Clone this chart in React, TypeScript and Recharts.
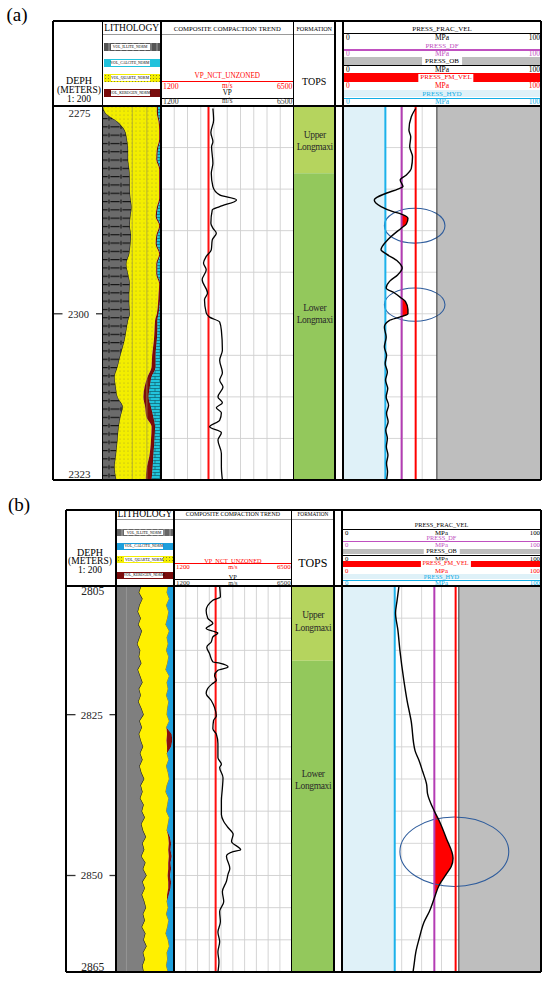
import React from 'react';
import {
  ComposedChart,
  Line,
  Area,
  XAxis,
  YAxis,
  CartesianGrid,
  ReferenceLine,
  ReferenceArea,
} from 'recharts';

// ---------- well (a): 2275–2323 m ----------
const DEPTH_RANGE_A = [2275, 2320];
const DEPTH_TICKS_A = [2300];
const DEPTH_ENDS_A = ['2275', '2323'];
const GRID_DEPTHS_A = [2275, 2280, 2285, 2290, 2295, 2300, 2305, 2310, 2315, 2320];

const LITH_A_DEPTH = [2275.0, 2275.8, 2276.9, 2277.9, 2279.0, 2280.2, 2281.4, 2282.6, 2283.8, 2285.0, 2286.1, 2287.2, 2288.3, 2289.4, 2290.6, 2291.6, 2292.8, 2294.0, 2295.2, 2296.4, 2297.6, 2298.8, 2300.0, 2300.8, 2302.0, 2303.2, 2305.0, 2306.4, 2307.6, 2308.8, 2310.0, 2311.2, 2312.4, 2313.6, 2315.2, 2317.2, 2318.4, 2320.0];
const ILLITE_A = [0, 4, 25, 37, 41, 43, 43, 45, 46, 46, 47, 49, 47, 46, 48, 47, 45, 40, 43, 46, 45, 45, 46, 43, 40, 37, 30, 25, 20, 22, 25, 34, 30, 27, 25, 22, 20, 23];
const QUARTZ_A = [92, 88, 70, 59, 55, 49, 48, 51, 50, 50, 49, 43, 43, 50, 43, 43, 51, 51, 48, 50, 50, 49, 46, 46, 48, 50, 54, 58, 56, 49, 44, 38, 44, 56, 57, 57, 55, 50];
const KEROGEN_A = [2, 2, 2, 2, 2, 2, 2, 2, 2, 2, 2, 2, 2, 2, 2, 2, 2, 2, 2, 2, 3, 3, 3, 4, 5, 5, 6, 7, 7, 9, 9, 10, 12, 6, 6, 7, 10, 10];
const CALCITE_A = [6, 6, 3, 2, 2, 6, 7, 2, 2, 2, 2, 6, 8, 2, 7, 8, 2, 7, 7, 2, 2, 3, 5, 7, 7, 8, 10, 10, 17, 20, 22, 18, 14, 11, 12, 14, 15, 17];

const VP_A_DEPTH = [2275.3, 2276.7, 2278.2, 2279.3, 2279.9, 2281.9, 2283.1, 2284.7, 2285.7, 2286.3, 2287.1, 2287.5, 2289.1, 2289.7, 2290.3, 2291.1, 2292.3, 2293.1, 2293.9, 2294.7, 2295.9, 2297.5, 2298.3, 2299.9, 2300.4, 2301.0, 2302.0, 2304.4, 2305.6, 2307.1, 2308.0, 2308.8, 2310.0, 2310.7, 2311.3, 2311.9, 2312.8, 2313.6, 2314.3, 2315.2, 2316.8, 2318.4, 2320.0];
const VP_A = [3276, 3304, 3195, 3276, 3223, 3276, 3211, 3276, 3547, 4222, 3547, 3251, 3195, 3276, 3413, 3251, 3211, 3009, 2899, 3009, 2847, 3061, 2940, 3009, 3142, 3547, 3615, 3656, 3547, 3656, 3547, 3680, 3478, 3656, 3413, 3615, 3547, 3142, 3615, 3478, 3615, 3615, 3656];
const VP_NCT_A = 3100;

const PRESS_A_DEPTH = [2275.3, 2276.3, 2277.9, 2278.7, 2279.9, 2281.1, 2282.5, 2283.3, 2283.9, 2284.7, 2285.0, 2285.5, 2286.3, 2287.1, 2287.7, 2288.0, 2288.5, 2289.2, 2289.7, 2291.1, 2292.3, 2292.8, 2293.7, 2294.5, 2295.3, 2296.1, 2296.9, 2297.5, 2298.1, 2298.5, 2299.5, 2300.0, 2300.4, 2300.8, 2301.6, 2302.8, 2304.0, 2305.0, 2306.0, 2307.0, 2308.0, 2309.0, 2310.0, 2311.0, 2312.0, 2313.0, 2314.0, 2315.0, 2316.0, 2317.0, 2318.0, 2319.0, 2320.0];
const PRESS_FRAC_A = [36.7, 34.5, 33.3, 34.2, 33.7, 35.1, 34.5, 32.0, 28.9, 30.3, 27.7, 21.8, 15.8, 19.2, 25.2, 29.4, 32.8, 32.0, 29.4, 22.6, 19.2, 21.8, 27.7, 29.9, 27.7, 23.5, 21.8, 26.0, 29.4, 31.5, 32.8, 32.8, 28.6, 23.5, 20.9, 21.8, 20.9, 22.0, 21.3, 22.4, 21.5, 22.6, 21.8, 23.0, 22.0, 22.8, 21.6, 22.4, 21.9, 22.7, 22.0, 22.5, 22.0];
const PRESS_HYD_A = 21.4;
const PRESS_DF_A = 29.6;
const PRESS_FM_A = 36.7;
const PRESS_OB_A = 47.4;
const OVERPRESSURE_A = [[2287.9, 2289.8], [2298.0, 2300.5]];
const HIGHLIGHTS_A = [[20.9, 51.5, 2287.3, 2291.5], [20.9, 51.5, 2296.9, 2300.9]];

const FORMATION_TOPS_A = [2275, 2283.1, 2320];

// ---------- well (b): 2805–2865 m ----------
const DEPTH_RANGE_B = [2805, 2865];
const DEPTH_TICKS_B = [2825, 2850];
const DEPTH_ENDS_B = ['2805', '2865'];
const GRID_DEPTHS_B = [2805, 2810, 2815, 2820, 2825, 2830, 2835, 2840, 2845, 2850, 2855, 2860, 2865];

const LITH_B_DEPTH = [2805, 2806, 2807, 2808, 2809, 2810, 2811, 2812, 2813, 2814, 2815, 2816, 2817, 2818, 2819, 2820, 2821, 2822, 2823, 2824, 2825, 2826, 2827, 2828, 2829, 2830, 2831, 2832, 2833, 2834, 2835, 2836, 2837, 2838, 2839, 2840, 2841, 2842, 2843, 2844, 2845, 2846, 2847, 2848, 2849, 2850, 2851, 2852, 2853, 2854, 2855, 2856, 2857, 2858, 2859, 2860, 2861, 2862, 2863, 2864, 2865];
const ILLITE_B = [44, 40, 46, 41, 38, 43, 39, 45, 41, 37, 42, 40, 44, 38, 42, 46, 40, 43, 39, 44, 48, 41, 45, 40, 43, 47, 42, 46, 41, 44, 49, 43, 46, 42, 48, 45, 50, 44, 47, 52, 46, 49, 44, 51, 47, 53, 46, 50, 45, 49, 52, 47, 50, 45, 51, 48, 53, 47, 50, 46, 48];
const QUARTZ_B = [46, 48, 46, 46, 53, 46, 47, 47, 47, 53, 45, 51, 45, 48, 50, 42, 50, 44, 52, 45, 40, 51, 42, 48, 44, 41, 46, 45, 46, 46, 43, 45, 40, 49, 41, 42, 42, 46, 41, 38, 45, 41, 47, 39, 43, 36, 44, 40, 43, 39, 38, 40, 41, 44, 35, 42, 39, 41, 39, 41, 42];
const KEROGEN_B = [0, 0, 0, 0, 0, 0, 0, 0, 0, 0, 0, 0, 0, 0, 0, 0, 0, 0, 0, 0, 0, 0, 0, 8, 10, 7, 0, 0, 0, 0, 0, 0, 0, 0, 0, 0, 0, 0, 0, 3, 4, 4, 5, 4, 5, 4, 5, 4, 3, 0, 0, 0, 0, 0, 0, 0, 0, 0, 0, 0, 0];
const CALCITE_B = [10, 12, 8, 13, 9, 11, 14, 8, 12, 10, 13, 9, 11, 14, 8, 12, 10, 13, 9, 11, 12, 8, 13, 4, 3, 5, 12, 9, 13, 10, 8, 12, 14, 9, 11, 13, 8, 10, 12, 7, 5, 6, 4, 6, 5, 7, 5, 6, 9, 12, 10, 13, 9, 11, 14, 10, 8, 12, 11, 13, 10];

const VP_B_DEPTH = [2805.1, 2806.7, 2807.2, 2808.8, 2810.0, 2810.8, 2811.6, 2812.1, 2812.3, 2812.9, 2813.7, 2814.5, 2815.5, 2816.8, 2817.0, 2817.6, 2818.1, 2818.9, 2819.7, 2820.2, 2820.9, 2821.7, 2822.8, 2823.9, 2825.2, 2825.9, 2827.2, 2828.0, 2829.5, 2831.7, 2832.7, 2833.2, 2834.8, 2836.4, 2838.4, 2840.5, 2841.6, 2842.5, 2843.6, 2844.7, 2846.0, 2846.3, 2847.0, 2848.9, 2849.8, 2850.9, 2852.5, 2854.1, 2855.6, 2857.2, 2858.8, 2860.3, 2861.9, 2863.4, 2865.0];
const VP_B = [3256, 3288, 2950, 2648, 2721, 2950, 2648, 3028, 3178, 2950, 2877, 2676, 2799, 2950, 3256, 3635, 3178, 3028, 3105, 2922, 2721, 2648, 2877, 3028, 3105, 2982, 2950, 3105, 3178, 3178, 3334, 3256, 3407, 3379, 3334, 3334, 3439, 3622, 3864, 3791, 4202, 3864, 3562, 3713, 3635, 3562, 3379, 3439, 3256, 3288, 3178, 3256, 3178, 3224, 3178];
const VP_NCT_B = 3075;

const PRESS_B_DEPTH = [2805.1, 2807.2, 2809.2, 2811.9, 2815.0, 2819.7, 2822.8, 2825.9, 2830.6, 2832.2, 2833.8, 2835.8, 2837.3, 2840.0, 2841.6, 2844.2, 2847.3, 2848.6, 2849.8, 2851.4, 2853.5, 2855.6, 2857.2, 2859.8, 2861.9, 2863.9, 2865.0];
const PRESS_FRAC_B = [28.6, 27.7, 26.9, 28.1, 29.1, 31.1, 32.7, 34.7, 36.7, 38.8, 40.5, 42.5, 43.0, 46.4, 49.0, 52.4, 55.8, 54.9, 52.4, 49.0, 46.4, 43.9, 41.3, 38.8, 37.1, 36.2, 35.7];
const PRESS_HYD_B = 26.5;
const PRESS_DF_B = 46.4;
const PRESS_FM_B = 57.1;
const PRESS_OB_B = 58.7;
const OVERPRESSURE_B = [[2839.9, 2853.6]];
const HIGHLIGHTS_B = [[29.1, 83.8, 2840.9, 2851.7]];

const FORMATION_TOPS_B = [2805, 2816.6, 2865];

const FORMATION_NAMES = [['Upper', 'Longmaxi'], ['Lower', 'Longmaxi']];
const FORMATION_COLORS = ['#b5d45e', '#93c85c'];
const VP_TICKS = [1200, 1730, 2260, 2790, 3320, 3850, 4380, 4910, 5440, 5970, 6500];
const MPA_TICKS = [0, 10, 20, 30, 40, 50, 60, 70, 80, 90, 100];

const FONT = '"Liberation Serif", "Times New Roman", serif';

function lithRows(depths: number[], ill: number[], qtz: number[], ker: number[], cal: number[]) {
  return depths.map((depth, i) => ({ depth, illite: ill[i], quartz: qtz[i], kerogen: ker[i], calcite: cal[i] }));
}
function vpRows(depths: number[], vp: number[]) {
  return depths.map((depth, i) => ({ depth, vp: vp[i] }));
}
function pressRows(depths: number[], frac: number[], df: number, zones: number[][]) {
  return depths.map((depth, i) => {
    const inZone = zones.some(([a, b]) => depth >= a && depth <= b);
    return { depth, frac: frac[i], over: inZone ? [df, Math.max(df, frac[i])] : null };
  });
}

const WELL_A = {
  domain: DEPTH_RANGE_A,
  ticks: DEPTH_TICKS_A,
  ends: DEPTH_ENDS_A,
  grid: GRID_DEPTHS_A,
  lith: lithRows(LITH_A_DEPTH, ILLITE_A, QUARTZ_A, KEROGEN_A, CALCITE_A),
  vp: vpRows(VP_A_DEPTH, VP_A),
  nct: VP_NCT_A,
  press: pressRows(PRESS_A_DEPTH, PRESS_FRAC_A, PRESS_DF_A, OVERPRESSURE_A),
  hyd: PRESS_HYD_A, df: PRESS_DF_A, fm: PRESS_FM_A, ob: PRESS_OB_A,
  highlights: HIGHLIGHTS_A,
  tops: FORMATION_TOPS_A,
};
const WELL_B = {
  domain: DEPTH_RANGE_B,
  ticks: DEPTH_TICKS_B,
  ends: DEPTH_ENDS_B,
  grid: GRID_DEPTHS_B,
  lith: lithRows(LITH_B_DEPTH, ILLITE_B, QUARTZ_B, KEROGEN_B, CALCITE_B),
  vp: vpRows(VP_B_DEPTH, VP_B),
  nct: VP_NCT_B,
  press: pressRows(PRESS_B_DEPTH, PRESS_FRAC_B, PRESS_DF_B, OVERPRESSURE_B),
  hyd: PRESS_HYD_B, df: PRESS_DF_B, fm: PRESS_FM_B, ob: PRESS_OB_B,
  highlights: HIGHLIGHTS_B,
  tops: FORMATION_TOPS_B,
};

// layout of each panel (pixel positions of the frame and header rows)
const LAYOUT_A = {
  tag: '(a)', tagX: 17, tagY: 14, textured: true,
  top: 21, head: 106, bottom: 480,
  cols: [52.5, 102.5, 161, 293.5, 335, 343, 541],
  titleY: 29, titleLine: 34.5,
  legendY: [46.7, 62.5, 77.8, 92.8], legendH: 8,
  depthText: [81, 90.7, 100], depthX: 79, endY: [112.5, 474],
  tickFs: 10.5,
  comp: [77.3, 81.7, 86.7, 94.3, 98.3, 101.8], compFs: 7.2, compTitleFs: 6.7,
  topsY: 81.7, topsFs: 10,
  press: { frac: 29, fracLine: 33.5, fracScale: 38.3, df: 45.7, dfLine: 50, dfScale: 53.6, ob: [57.3, 65], obLine: 65.7, obScale: 70, fm: [73.3, 81.7], fmScale: 85.8, hyd: [90, 97.3], hydLine: 98.3, hydScale: 102 },
  pressFs: 7,
  formFrac: [0.5, 0.455],
  lith: { ill: 'url(#illA)', qtz: 'url(#qtzA)', ker: '#7c0b0b', cal: 'url(#calA)', curve: 'monotone' },
};
const LAYOUT_B = {
  tag: '(b)', tagX: 19, tagY: 503.5, textured: false,
  top: 509.5, head: 586, bottom: 972,
  cols: [65.5, 116, 174, 291.7, 334, 342, 541],
  titleY: 514.5, titleLine: 519.5,
  legendY: [532.5, 546, 559.5, 575], legendH: 7,
  depthText: [552.7, 561.7, 570.7], depthX: 90, endY: [592, 967.5],
  tickFs: 11,
  comp: [560.7, 563.3, 567, 576.5, 579.3, 582.7], compFs: 6.3, compTitleFs: 5.9,
  topsY: 562.7, topsFs: 12,
  press: { frac: 525, fracLine: 529.3, fracScale: 532.7, df: 537.7, dfLine: 541.7, dfScale: 544.6, ob: [549.3, 554.5], obLine: 555.7, obScale: 558.5, fm: [561, 566.7], fmScale: 570.8, hyd: [574, 579.3], hydLine: 580.7, hydScale: 583.2 },
  pressFs: 6.3,
  formFrac: [0.46, 0.38],
  lith: { ill: '#7f7f7f', qtz: '#fff000', ker: '#8a0f0f', cal: '#1e9fdc', curve: 'linear' },
};

const MARGIN = { top: 0, right: 0, bottom: 0, left: 0 };

function Txt({ x, y, children, size = 7, color = '#000', anchor = 'middle', bg, pad = 0 }: any) {
  const tx = anchor === 'middle' ? '-50%' : anchor === 'end' ? '-100%' : '0';
  return (
    <div
      style={{
        position: 'absolute', left: x, top: y, transform: `translate(${tx}, -50%)`,
        fontSize: size, lineHeight: 1, color, whiteSpace: 'nowrap', background: bg,
        padding: pad ? `0.5px ${pad}px` : 0, fontFamily: FONT,
      }}
    >
      {children}
    </div>
  );
}
function HL({ x1, x2, y, c = '#000', w = 1 }: any) {
  return <div style={{ position: 'absolute', left: x1, top: y - w / 2, width: x2 - x1, height: w, background: c }} />;
}
function VL({ x, y1, y2, c = '#000', w = 1 }: any) {
  return <div style={{ position: 'absolute', left: x - w / 2, top: y1, width: w, height: y2 - y1, background: c }} />;
}
function Rect({ x1, x2, y1, y2, bg }: any) {
  return <div style={{ position: 'absolute', left: x1, top: y1, width: x2 - x1, height: y2 - y1, background: bg }} />;
}
function Abs({ x, y, children }: any) {
  return <div style={{ position: 'absolute', left: x, top: y }}>{children}</div>;
}

function DepthTick({ y, payload, w, fs }: any) {
  return (
    <g>
      <line x1={1} x2={9.5} y1={y} y2={y} stroke="#333" strokeWidth={1.3} />
      <text x={w / 2 + 0.5} y={y} dy="0.36em" textAnchor="middle" fontSize={fs} fontFamily={FONT} fill="#222">
        {payload.value}
      </text>
      <line x1={w - 7} x2={w - 0.5} y1={y} y2={y} stroke="#333" strokeWidth={1.3} />
    </g>
  );
}

function FormationLabel({ viewBox, lines, frac }: any) {
  if (!viewBox) return null;
  const cx = viewBox.x + viewBox.width / 2;
  const cy = viewBox.y + viewBox.height * frac;
  return (
    <text x={cx} y={cy} textAnchor="middle" fontSize={9.5} letterSpacing={-0.35} fontFamily={FONT} fill="#2a2a2a">
      <tspan x={cx} dy="-0.2em">{lines[0]}</tspan>
      <tspan x={cx} dy="1.3em">{lines[1]}</tspan>
    </text>
  );
}

const ellipseShape = (p: any) => (
  <ellipse
    cx={p.x + p.width / 2}
    cy={p.y + p.height / 2}
    rx={Math.abs(p.width) / 2}
    ry={Math.abs(p.height) / 2}
    fill="none"
    stroke="#2e5c9c"
    strokeWidth={1.1}
  />
);

function Panel({ L, D }: any) {
  const [x0, xD, xL, xC, xF, xG, x1] = L.cols;
  const h = L.bottom - L.head;
  const P = L.press;
  const fs = L.pressFs;
  const pm = (x1 + xG) / 2;
  const mpa = (yy: number, color: string) => (
    <>
      <Txt x={xG + 3} y={yy} size={fs + 0.5} color={color} anchor="start">0</Txt>
      <Txt x={pm} y={yy} size={fs + 0.5} color={color}>MPa</Txt>
      <Txt x={x1 - 1} y={yy} size={fs + 0.5} color={color} anchor="end">100</Txt>
    </>
  );
  const vel = (yy: number, color: string) => (
    <>
      <Txt x={xL + 2} y={yy} size={L.compFs + 0.6} color={color} anchor="start">1200</Txt>
      <Txt x={(xL + xC) / 2} y={yy} size={L.compFs} color={color}>m/s</Txt>
      <Txt x={xC - 1} y={yy} size={L.compFs + 0.6} color={color} anchor="end">6500</Txt>
    </>
  );
  const legends = [
    { label: 'VOL_ILLITE_NORM', bg: L.textured ? 'repeating-linear-gradient(90deg,#555 0 4px,#7a7a7a 4px 6px)' : 'repeating-linear-gradient(90deg,#666 0 4px,#888 4px 6px)' },
    { label: 'VOL_CALCITE_NORM', bg: L.textured ? '#22c2dc' : '#1e9fdc' },
    { label: 'VOL_QUARTZ_NORM', bg: 'radial-gradient(#8a8620 0.6px, transparent 0.9px) 0 0/3px 3px, #f3ee00' },
    { label: 'VOL_KEROGEN_NORM', bg: '#7a0c0c' },
  ];
  const LS = L.lith;
  const lw = xL - xD;

  return (
    <>
      <Txt x={L.tagX} y={L.tagY} size={19}>{L.tag}</Txt>

      {/* depth track */}
      <Abs x={x0} y={L.head}>
        <ComposedChart layout="vertical" width={xD - x0 + 1} height={h} data={[{ depth: D.domain[0] }, { depth: D.domain[1] }]} margin={MARGIN}>
          <XAxis type="number" domain={[0, 1]} hide allowDataOverflow />
          <YAxis
            type="number" dataKey="depth" domain={D.domain} ticks={D.ticks} interval={0}
            width={xD - x0} axisLine={false} tickLine={false} allowDataOverflow
            tick={(p: any) => <DepthTick {...p} w={xD - x0} fs={L.tickFs} />}
          />
        </ComposedChart>
      </Abs>
      <Txt x={(x0 + xD) / 2 + 2} y={L.endY[0]} size={L.tickFs + 0.5} color="#222">{D.ends[0]}</Txt>
      <Txt x={(x0 + xD) / 2 + 2} y={L.endY[1]} size={L.tickFs + 0.5} color="#222">{D.ends[1]}</Txt>

      {/* lithology track */}
      <Abs x={xD} y={L.head}>
        <ComposedChart layout="vertical" width={xL - xD} height={h} data={D.lith} margin={MARGIN}>
          <defs>
            <pattern id="illA" width="12" height="8.3" patternUnits="userSpaceOnUse">
              <rect width="12" height="8.3" fill="#6b6b6b" />
              <path d="M0 4.2H4.6M7.4 4.2H12M6 2.2V6.2" stroke="#111" strokeWidth="1.1" />
            </pattern>
            <pattern id="qtzA" width="4" height="4" patternUnits="userSpaceOnUse">
              <rect width="4" height="4" fill="#f3ee00" />
              <circle cx="1" cy="1" r="0.5" fill="#9a9630" />
            </pattern>
            <pattern id="calA" width="10" height="6" patternUnits="userSpaceOnUse">
              <rect width="10" height="6" fill="#22c4dc" />
              <path d="M0 0.5H10M0 3.5H10M2 0.5V3.5M7 3.5V6" stroke="#0b4b57" strokeWidth="0.6" />
            </pattern>
          </defs>
          <XAxis type="number" domain={[0, 100]} hide allowDataOverflow />
          <YAxis type="number" dataKey="depth" domain={D.domain} hide allowDataOverflow />
          <Area dataKey="illite" stackId="v" type={LS.curve} fill={LS.ill} fillOpacity={1} stroke="#1b1b1b" strokeWidth={1.1} isAnimationActive={false} />
          <Area dataKey="quartz" stackId="v" type={LS.curve} fill={LS.qtz} fillOpacity={1} stroke="none" isAnimationActive={false} />
          <Area dataKey="kerogen" stackId="v" type={LS.curve} fill={LS.ker} fillOpacity={1} stroke="#3a0000" strokeWidth={0.5} isAnimationActive={false} />
          <Area dataKey="calcite" stackId="v" type={LS.curve} fill={LS.cal} fillOpacity={1} stroke="none" isAnimationActive={false} />
          {L.textured ? (
            <>
              <ReferenceLine x={50} stroke="#9c9a40" strokeWidth={0.7} />
              <ReferenceLine x={75} stroke="#9c9a40" strokeWidth={0.7} />
            </>
          ) : (
            <ReferenceLine x={18} stroke="#9a9a9a" strokeWidth={0.8} />
          )}
        </ComposedChart>
      </Abs>

      {/* composite compaction trend */}
      <Abs x={xL} y={L.head}>
        <ComposedChart layout="vertical" width={xC - xL} height={h} data={D.vp} margin={MARGIN}>
          <CartesianGrid stroke="#cfcfcf" strokeWidth={0.9} />
          <XAxis type="number" domain={[1200, 6500]} ticks={VP_TICKS} interval={0} hide allowDataOverflow />
          <YAxis type="number" dataKey="depth" domain={D.domain} ticks={D.grid} interval={0} hide allowDataOverflow />
          <ReferenceLine x={D.nct} stroke="#ff1010" strokeWidth={2} />
          <Line dataKey="vp" type="monotone" stroke="#000" strokeWidth={1.3} dot={false} isAnimationActive={false} />
        </ComposedChart>
      </Abs>

      {/* formation tops */}
      <Abs x={xC} y={L.head}>
        <ComposedChart layout="vertical" width={xF - xC} height={h} data={[{ depth: D.domain[0] }, { depth: D.domain[1] }]} margin={MARGIN}>
          <XAxis type="number" domain={[0, 1]} hide allowDataOverflow />
          <YAxis type="number" dataKey="depth" domain={D.domain} hide allowDataOverflow />
          {FORMATION_NAMES.map((lines, i) => (
            <ReferenceArea
              key={i}
              x1={0} x2={1} y1={D.tops[i]} y2={D.tops[i + 1]}
              fill={FORMATION_COLORS[i]} fillOpacity={1} stroke="none"
              label={<FormationLabel lines={lines} frac={L.formFrac[i]} />}
            />
          ))}
        </ComposedChart>
      </Abs>

      {/* pressure track */}
      <Abs x={xG} y={L.head}>
        <ComposedChart layout="vertical" width={x1 - xG} height={h} data={D.press} margin={MARGIN}>
          <CartesianGrid stroke="#d2d2d2" strokeWidth={0.9} />
          <XAxis type="number" domain={[0, 100]} ticks={MPA_TICKS} interval={0} hide allowDataOverflow />
          <YAxis type="number" dataKey="depth" domain={D.domain} ticks={D.grid} interval={0} hide allowDataOverflow />
          <ReferenceArea x1={0} x2={D.hyd} y1={D.domain[0]} y2={D.domain[1]} fill="#dff1f8" fillOpacity={1} stroke="none" />
          <ReferenceArea x1={D.ob} x2={100} y1={D.domain[0]} y2={D.domain[1]} fill="#bebebe" fillOpacity={1} stroke="none" />
          <ReferenceLine x={D.ob} stroke="#333" strokeWidth={1} />
          <ReferenceLine x={D.hyd} stroke="#1cb2ea" strokeWidth={2} />
          <ReferenceLine x={D.df} stroke="#b43cb4" strokeWidth={2} />
          <ReferenceLine x={D.fm} stroke="#ff0000" strokeWidth={2} />
          <Area dataKey="over" type="monotone" fill="#ff0000" fillOpacity={1} stroke="none" isAnimationActive={false} />
          <Line dataKey="frac" type="monotone" stroke="#000" strokeWidth={1.4} dot={false} isAnimationActive={false} />
          {D.highlights.map((e: number[], i: number) => (
            <ReferenceArea key={i} x1={e[0]} x2={e[1]} y1={e[2]} y2={e[3]} shape={ellipseShape} />
          ))}
        </ComposedChart>
      </Abs>

      {/* ---- header contents ---- */}
      <Txt x={L.depthX} y={L.depthText[0]} size={10}>DEPH</Txt>
      <Txt x={L.depthX} y={L.depthText[1]} size={9.5}>(METERS)</Txt>
      <Txt x={L.depthX} y={L.depthText[2]} size={9.5}>1: 200</Txt>

      <Txt x={(xD + xL) / 2} y={L.titleY} size={9.5}>LITHOLOGY</Txt>
      {legends.map((g, i) => (
        <React.Fragment key={g.label}>
          <div style={{ position: 'absolute', left: xD + 1, top: L.legendY[i] - L.legendH / 2, width: lw - 2, height: L.legendH, background: g.bg }} />
          <div
            style={{
              position: 'absolute', left: xD + lw * 0.14, top: L.legendY[i] - L.legendH / 2 + 1,
              width: lw * 0.67, height: L.legendH - 2, background: '#fff', overflow: 'hidden',
            }}
          />
          <div
            style={{
              position: 'absolute', left: xD + lw * 0.475, top: L.legendY[i],
              transform: 'translate(-50%, -50%) scale(0.42)', fontSize: 9, lineHeight: 1,
              whiteSpace: 'nowrap', fontFamily: FONT, color: '#000',
            }}
          >
            {g.label}
          </div>
        </React.Fragment>
      ))}

      <Txt x={(xL + xC) / 2} y={L.titleY} size={L.compTitleFs}>COMPOSITE COMPACTION TREND</Txt>
      <Txt x={(xL + xC) / 2} y={L.comp[0]} size={L.compFs} color="#ff0000">VP_NCT_UNZONED</Txt>
      <HL x1={xL} x2={xC} y={L.comp[1]} c="#ff0000" w={1.5} />
      {vel(L.comp[2], '#ff0000')}
      <Txt x={(xL + xC) / 2} y={L.comp[3]} size={L.compFs}>VP</Txt>
      <HL x1={xL} x2={xC} y={L.comp[4]} c="#000" w={1.2} />
      {vel(L.comp[5], '#333')}

      <Txt x={(xC + xF) / 2} y={L.titleY} size={L.compTitleFs - 0.6}>FORMATION</Txt>
      <Txt x={(xC + xF) / 2} y={L.topsY} size={L.topsFs}>TOPS</Txt>

      <Txt x={pm} y={P.frac} size={fs}>PRESS_FRAC_VEL</Txt>
      <HL x1={xG} x2={x1} y={P.fracLine} w={1.2} />
      {mpa(P.fracScale, '#000')}
      <Txt x={pm} y={P.df} size={fs} color="#c050c0">PRESS_DF</Txt>
      <HL x1={xG} x2={x1} y={P.dfLine} c="#c050c0" w={1.3} />
      {mpa(P.dfScale, '#c050c0')}
      <Rect x1={xG} x2={x1} y1={P.ob[0]} y2={P.ob[1]} bg="#bdbdbd" />
      <Txt x={pm} y={(P.ob[0] + P.ob[1]) / 2} size={fs} bg="#fff" pad={3}>PRESS_OB</Txt>
      <HL x1={xG} x2={x1} y={P.obLine} w={1} />
      {mpa(P.obScale, '#000')}
      <Rect x1={xG} x2={x1} y1={P.fm[0]} y2={P.fm[1]} bg="#ff0000" />
      <Txt x={pm + 4} y={(P.fm[0] + P.fm[1]) / 2} size={fs} color="#ff0000" bg="#fff" pad={2}>PRESS_FM_VEL</Txt>
      {mpa(P.fmScale, '#ff0000')}
      <Rect x1={xG} x2={x1} y1={P.hyd[0]} y2={P.hyd[1]} bg="#dff1f8" />
      <Txt x={pm} y={(P.hyd[0] + P.hyd[1]) / 2} size={fs} color="#12aee6">PRESS_HYD</Txt>
      <HL x1={xG} x2={x1} y={P.hydLine} c="#12aee6" w={1.3} />
      {mpa(P.hydScale, '#12aee6')}

      {/* ---- frame ---- */}
      <HL x1={xD} x2={xF} y={L.titleLine} c="#9a9a9a" w={1} />
      <HL x1={x0} x2={x1} y={L.top} w={2} />
      <HL x1={x0} x2={x1} y={L.head} w={1.6} />
      <HL x1={x0} x2={x1} y={L.bottom} w={2} />
      <VL x={x0} y1={L.top} y2={L.bottom} w={2} />
      <VL x={xD} y1={L.top} y2={L.bottom} w={1.6} />
      <VL x={xL} y1={L.top} y2={L.bottom} w={1.6} />
      <VL x={xC} y1={L.top} y2={L.bottom} w={1.6} />
      <VL x={xF} y1={L.top} y2={L.bottom} w={1.6} />
      <VL x={xG} y1={L.top} y2={L.bottom} w={1.6} />
      <VL x={x1} y1={L.top} y2={L.bottom} w={2} />
    </>
  );
}

export default function App() {
  return (
    <div
      style={{
        position: 'absolute', left: 0, top: 0, width: 550, height: 983,
        background: '#fff', fontFamily: FONT, overflow: 'hidden',
      }}
    >
      <Panel L={LAYOUT_A} D={WELL_A} />
      <Panel L={LAYOUT_B} D={WELL_B} />
    </div>
  );
}
